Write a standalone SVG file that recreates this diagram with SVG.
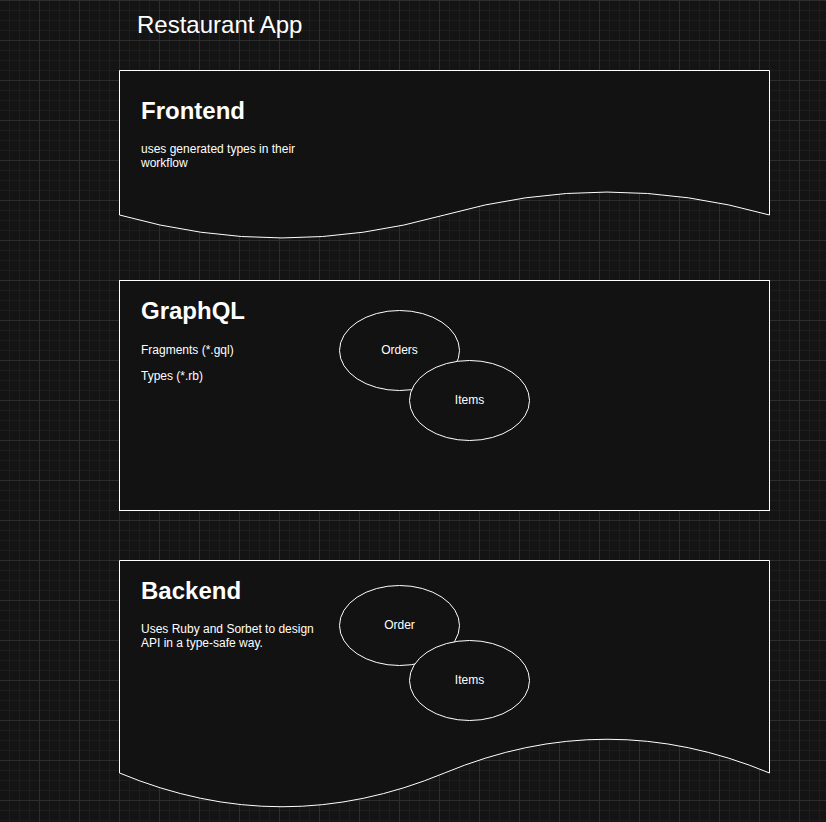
<svg xmlns="http://www.w3.org/2000/svg" width="826" height="822" viewBox="0 0 826 822">
  <defs>
    <pattern id="grid" x="0" y="0" width="40" height="40" patternUnits="userSpaceOnUse">
      <rect width="40" height="40" fill="#141414"/>
      <path d="M9.5 0V40M19.5 0V40M29.5 0V40M0 10.5H40M0 20.5H40M0 30.5H40" stroke="#1d1d1d" stroke-width="1" fill="none"/>
      <path d="M39.5 0V40M0 0.5H40" stroke="#2d2d2d" stroke-width="1" fill="none"/>
    </pattern>
    <style>
      .box { fill: #121212; stroke: #ffffff; stroke-width: 1; }
      .ell { fill: #121212; stroke: #ffffff; stroke-width: 1; }
      text { font-family: "Liberation Sans", Arial, Helvetica, sans-serif; fill: #ffffff; }
      .title { font-size: 24px; }
      .head { font-size: 24px; font-weight: bold; }
      .desc { font-size: 12px; }
      .lbl { font-size: 12px; text-anchor: middle; dominant-baseline: central; }
    </style>
  </defs>
  <rect width="826" height="822" fill="url(#grid)"/>

  <g id="title">
    <text class="title" x="137" y="33">Restaurant App</text>
  </g>

  <g id="frontend">
    <path class="box" d="M119.5 70.5H769.5V215Q607 169.1 444.5 215Q282 260.9 119.5 215Z"/>
    <text class="head" x="141" y="119">Frontend</text>
    <text class="desc" x="141" y="153">uses generated types in their</text>
    <text class="desc" x="141" y="167">workflow</text>
  </g>

  <g id="graphql">
    <rect class="box" x="119.5" y="280.5" width="650" height="230"/>
    <text class="head" x="141" y="319">GraphQL</text>
    <text class="desc" x="141" y="354">Fragments (*.gql)</text>
    <text class="desc" x="141" y="380">Types (*.rb)</text>
  </g>

  <g id="gql-orders">
    <ellipse class="ell" cx="399.5" cy="350.5" rx="60" ry="40"/>
    <text class="lbl" x="399.5" y="350">Orders</text>
  </g>

  <g id="gql-items">
    <ellipse class="ell" cx="469.5" cy="400.5" rx="60" ry="40"/>
    <text class="lbl" x="469.5" y="400">Items</text>
  </g>

  <g id="backend">
    <path class="box" d="M119.5 560.5H769.5V773Q607 705.5 444.5 773Q282 840.5 119.5 773Z"/>
    <text class="head" x="141" y="598.5">Backend</text>
    <text class="desc" x="141" y="633">Uses Ruby and Sorbet to design</text>
    <text class="desc" x="141" y="647">API in a type-safe way.</text>
  </g>

  <g id="be-order">
    <ellipse class="ell" cx="399.5" cy="625.5" rx="60" ry="40"/>
    <text class="lbl" x="399.5" y="625">Order</text>
  </g>

  <g id="be-items">
    <ellipse class="ell" cx="469.5" cy="680.5" rx="60" ry="40"/>
    <text class="lbl" x="469.5" y="680">Items</text>
  </g>

  <g id="connectors"/>
</svg>
